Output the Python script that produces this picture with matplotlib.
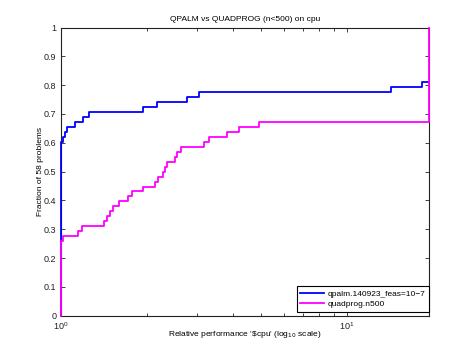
import numpy as np
import matplotlib
matplotlib.use("Agg")
import matplotlib.pyplot as plt
from matplotlib.ticker import LogLocator, FixedLocator, NullFormatter

plt.rcParams["font.family"] = ["Liberation Sans", "DejaVu Sans"]

N_PROBLEMS = 58
X_MAX = 19.35

# qpalm: ratio where each additional problem is solved, and solved count
qpalm_x = [1.0, 1.0, 1.019, 1.035, 1.047, 1.119, 1.197, 1.25, 1.941,
           2.171, 2.751, 3.045, 14.28, 18.34, X_MAX]
qpalm_n = [0, 35, 36, 37, 38, 39, 40, 41, 42, 43, 44, 45, 46, 47, 47]

# quadprog
quad_x = [1.0, 1.0, 1.019, 1.149, 1.187, 1.417, 1.445, 1.483, 1.523, 1.595,
          1.712, 1.767, 1.929, 2.132, 2.189, 2.279, 2.311, 2.353, 2.504,
          2.539, 2.622, 3.170, 3.301, 3.815, 4.202, 4.923, X_MAX, X_MAX]
quad_n = [0, 15, 16, 17, 18, 19, 20, 21, 22, 23, 24, 25, 26, 27, 28, 29, 30,
          31, 32, 33, 34, 35, 36, 37, 38, 39, 39, 58]

fig = plt.figure(figsize=(4.74, 3.55), dpi=100)
ax = fig.add_axes([0.1287, 0.1107, 0.7764, 0.8118])

ax.step(qpalm_x, np.array(qpalm_n) / N_PROBLEMS, where="post",
        color="#0000ff", linewidth=1.3, label="qpalm.140923_feas=10\u22127",
        clip_on=False, zorder=3)
ax.step(quad_x, np.array(quad_n) / N_PROBLEMS, where="post",
        color="#ff00ff", linewidth=1.3, label="quadprog.n500",
        clip_on=False, zorder=4)

ax.set_xscale("log")
ax.set_xlim(1, X_MAX)
ax.set_ylim(0, 1)
ax.set_yticks(np.arange(0, 1.01, 0.1))
ax.set_yticklabels(["0", "0.1", "0.2", "0.3", "0.4", "0.5",
                    "0.6", "0.7", "0.8", "0.9", "1"])
ax.xaxis.set_major_locator(FixedLocator([1, 10]))
ax.xaxis.set_minor_locator(LogLocator(base=10, subs=np.arange(2, 10)))
ax.xaxis.set_minor_formatter(NullFormatter())

ax.tick_params(which="both", direction="in", top=True, right=True,
               labelsize=6.5, width=0.6, colors="#222222")
ax.tick_params(which="major", length=3)
ax.tick_params(which="minor", length=2)
for sp in ax.spines.values():
    sp.set_linewidth(0.8)
    sp.set_color("#222222")

ax.set_title("QPALM vs QUADPROG (n<500) on cpu", fontsize=6, pad=4.5)
ax.set_xlabel(r"Relative performance '\$cpu' (log$_{10}$ scale)", fontsize=6,
              labelpad=-2)
ax.set_ylabel("Fraction of 58 problems", fontsize=6, labelpad=0)

leg = ax.legend(loc="lower right", bbox_to_anchor=(1.0, 0.013), fontsize=6,
                fancybox=False, edgecolor="black", framealpha=1,
                borderaxespad=0, handlelength=2.8, borderpad=0.45,
                labelspacing=0.3, handletextpad=0.45)
leg.get_frame().set_linewidth(0.8)

fig.savefig("out.png", dpi=100, facecolor="white")
